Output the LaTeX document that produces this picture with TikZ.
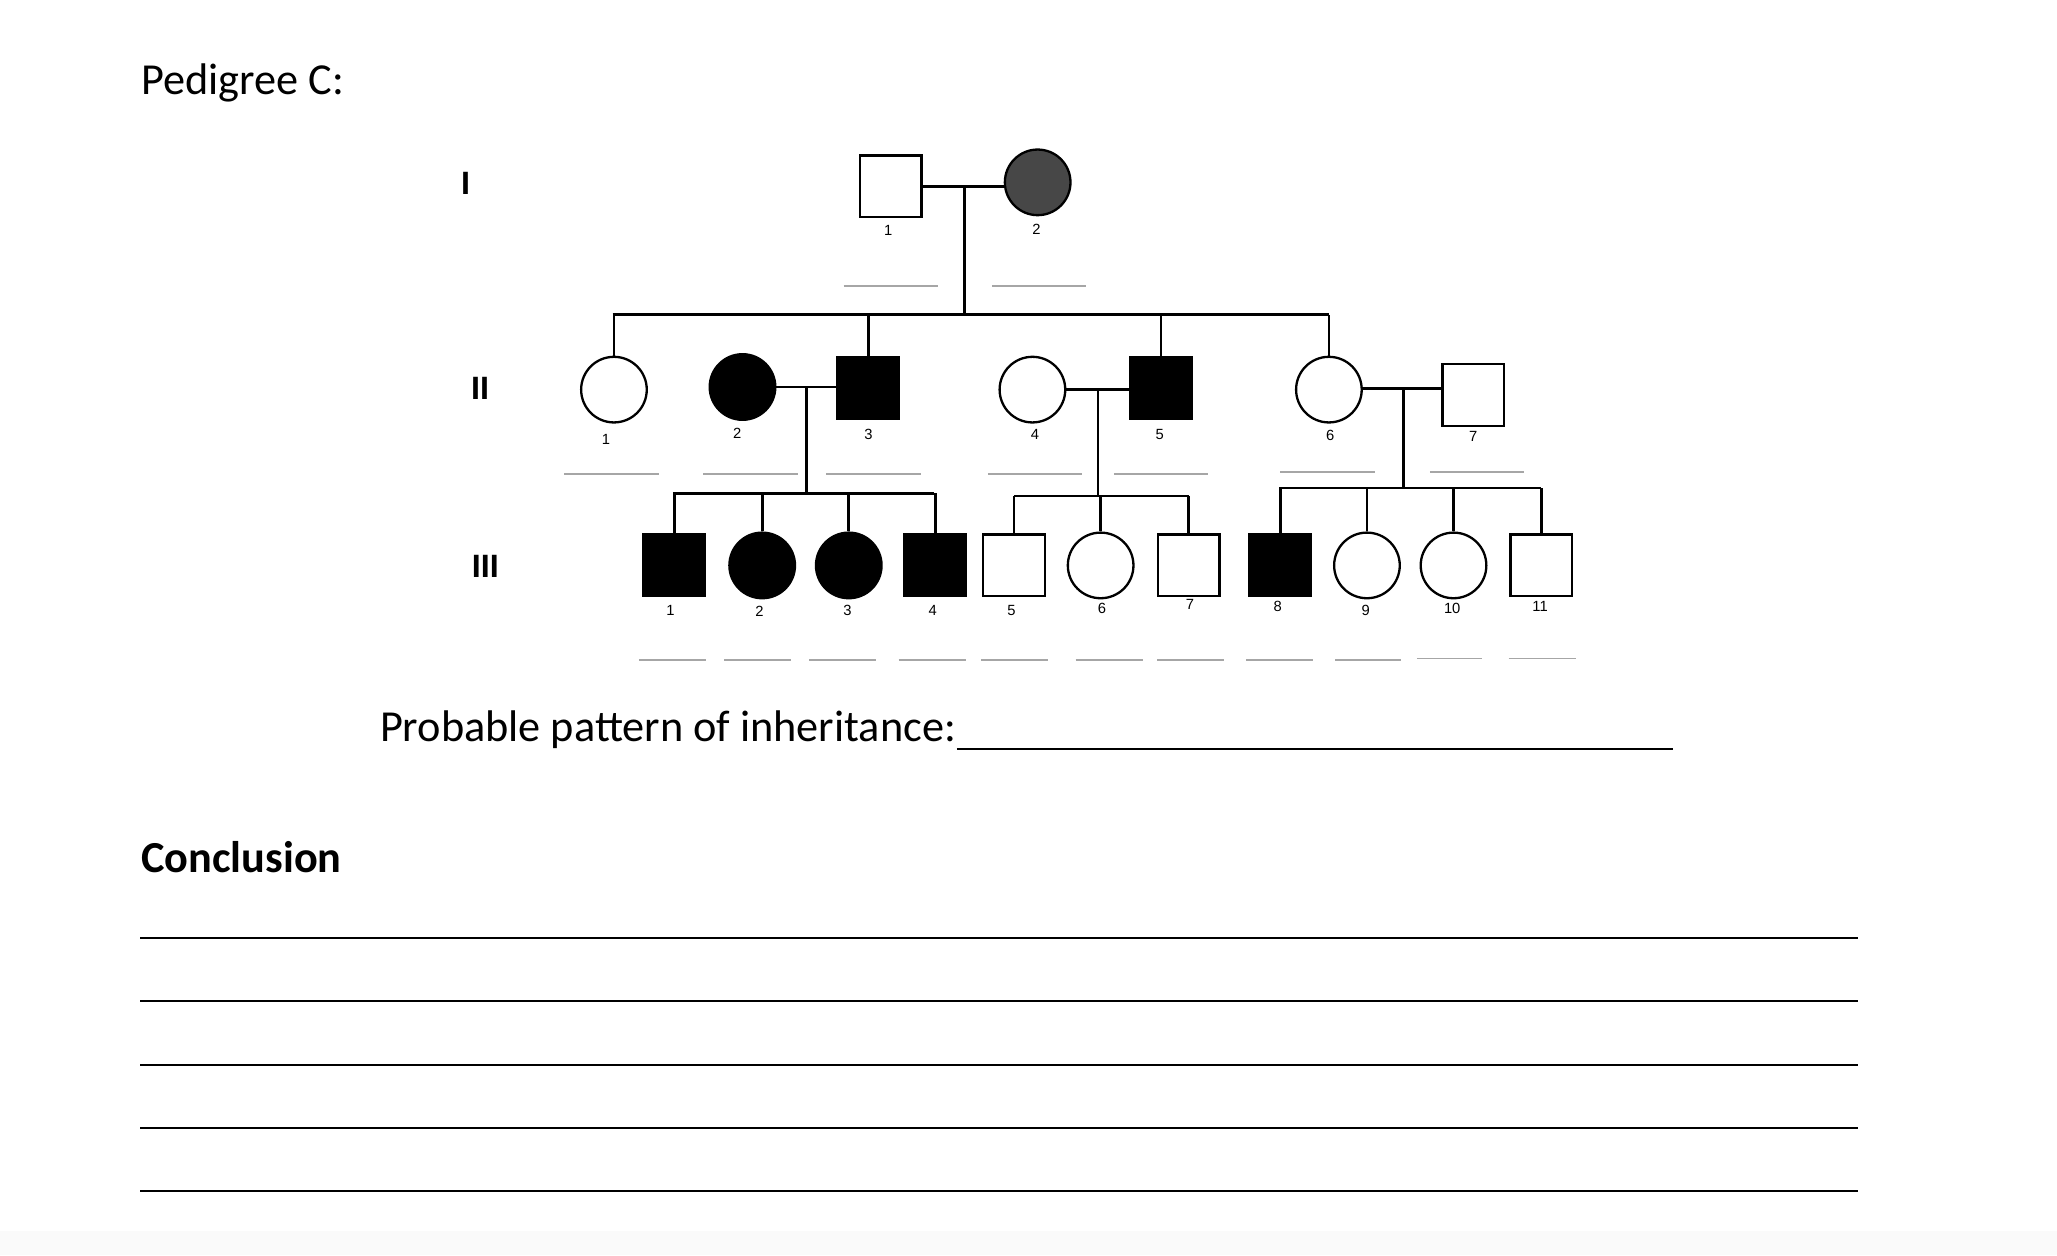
\documentclass[tikz,border=0pt]{standalone}
\usepackage{fontspec}
\setmainfont{Carlito}
\newfontfamily\arialf{Liberation Sans}
\begin{document}
\begin{tikzpicture}[x=0.01cm,y=-0.01cm,
 sq/.style={draw,line width=0.5pt,minimum size=0.47cm,inner sep=0,fill=white},
 sqa/.style={sq,fill=black},
 ci/.style={draw,circle,line width=0.5pt,minimum size=0.5cm,inner sep=0,fill=white},
 cia/.style={ci,fill=black},
 lk/.style={line width=0.6pt},
 num/.style={font=\arialf\fontsize{3.2}{3.2}\selectfont},
 ul/.style={gray!70,line width=0.4pt},
 gen/.style={font=\arialf\bfseries\fontsize{7}{7}\selectfont},
 txt/.style={font=\fontsize{9.6}{11}\selectfont,anchor=west,inner sep=0}]
\useasboundingbox (0,0) rectangle (1568,957);
\fill[gray!4] (0,938) rectangle (1568,957);
\node[txt] (t1) at (107,63) {Pedigree C:};
\node[txt] (t2) at (289,556) {Probable pattern of inheritance:};
\draw[line width=0.5pt] (t2.east|-0,571) -- (1275,571);
\node[txt,font=\fontsize{9.6}{11}\selectfont\bfseries] (t3) at (107,653) {Conclusion};
\foreach \y in {715,763,812,860,908} \draw[line width=0.5pt] (107,\y) -- (1416,\y);
\node[gen] (g1) at (355,140) {I};
\node[gen] (g2) at (366,296) {II};
\node[gen] (g3) at (370,432) {III};
% generation I
\node[sq] (a1) at (679,142) {};
\node[ci,fill=black!72] (a2) at (791,139) {};
\draw[lk] (a1.east) -- (a2.west|-a1.east);
\coordinate (m1) at (735,142);
\coordinate (s1) at (735,240);
\draw[lk] (m1) -- (s1);
\draw[lk] (467,240) -- (1013,240);
% generation II
\node[ci] (b1) at (468,297) {};
\node[cia] (b2) at (566,295) {};
\node[sqa] (b3) at (662,296) {};
\node[ci] (b4) at (787,297) {};
\node[sqa] (b5) at (885,296) {};
\node[ci] (b6) at (1013,297) {};
\node[sq] (b7) at (1123,301) {};
\foreach \n/\x in {b1/468,b3/662,b5/885,b6/1013} \draw[lk] (\x,240) -- (\n.north);
\draw[lk] (b2.east) -- (b3.west|-b2.east);
\draw[lk] (b4.east) -- (b5.west|-b4.east);
\draw[lk] (b6.east|-1070,296) -- (b7.west|-1070,296);
\draw[lk] (615,295) -- (615,376);
\draw[lk] (837,297) -- (837,378);
\draw[lk] (1070,296) -- (1070,372);
% generation III
\node[sqa] (c1) at (514,431) {};
\node[cia] (c2) at (581,431) {};
\node[cia] (c3) at (647,431) {};
\node[sqa] (c4) at (713,431) {};
\node[sq] (c5) at (773,431) {};
\node[ci] (c6) at (839,431) {};
\node[sq] (c7) at (906,431) {};
\node[sqa] (c8) at (976,431) {};
\node[ci] (c9) at (1042,431) {};
\node[ci] (c10) at (1108,431) {};
\node[sq] (c11) at (1175,431) {};
\draw[lk] (513,376) -- (712,376);
\draw[lk] (773,378) -- (906,378);
\draw[lk] (975,372) -- (1175,372);
\foreach \n/\y in {c1/376,c2/376,c3/376,c4/376,c5/378,c6/378,c7/378,c8/372,c9/372,c10/372,c11/372}
  \draw[lk] (\n.north|-0,\y) -- (\n.north);
% numbers
\foreach \t/\x/\y in {1/677/176,2/790/175,1/462/335,2/562/330,3/662/331,4/789/331,5/884/331,6/1014/332,7/1123/333,
 1/511/465,2/579/466,3/646/465,4/711/465,5/771/465,6/840/464,7/907/461,8/974/462,9/1041/465,10/1107/464,11/1174/462}
 \node[num] at (\x,\y) {\t};
% underlines
\foreach \a/\b/\y in {643/715/218,756/828/218,430/502/361,536/608/361,630/702/361,753/825/361,849/921/361,976/1048/360,1090/1162/360,
 487/538/503,552/603/503,617/668/503,685/736/503,748/799/503,820/871/503,882/933/503,950/1001/503,1018/1068/503,1080/1130/502,1150/1201/502}
 \draw[ul] (\a,\y) -- (\b,\y);
\end{tikzpicture}
\end{document}
